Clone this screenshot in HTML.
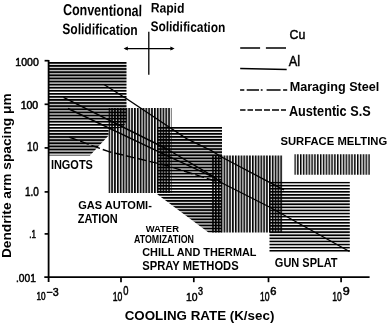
<!DOCTYPE html><html><head><meta charset="utf-8"><style>html,body{margin:0;padding:0;background:#fff;}svg{display:block;}text{font-family:"Liberation Sans",Arial,sans-serif;fill:#000;}</style></head><body>
<svg width="387" height="324" viewBox="0 0 387 324">
<rect width="387" height="324" fill="#fff"/>
<defs>
<pattern id="hIng" patternUnits="userSpaceOnUse" x="0" y="62.0" width="10" height="3.09"><rect x="0" y="0" width="10" height="1.95" fill="#000"/></pattern>
<pattern id="vGas" patternUnits="userSpaceOnUse" x="108.4" y="0" width="2.85" height="10"><rect x="0" y="0" width="1.7" height="10" fill="#000"/></pattern>
<pattern id="hChill" patternUnits="userSpaceOnUse" x="0" y="126.9" width="10" height="3.05"><rect x="0" y="0" width="10" height="1.9" fill="#000"/></pattern>
<pattern id="vF" patternUnits="userSpaceOnUse" x="212.2" y="0" width="2.84" height="10"><rect x="0" y="0" width="1.65" height="10" fill="#000"/></pattern>
<pattern id="hGun" patternUnits="userSpaceOnUse" x="0" y="181.7" width="10" height="3.1"><rect x="0" y="0" width="10" height="1.7" fill="#000"/></pattern>
<pattern id="vSurf" patternUnits="userSpaceOnUse" x="294.3" y="0" width="2.85" height="10"><rect x="0" y="0" width="1.5" height="10" fill="#000"/></pattern>
</defs>
<polygon points="49,62 126.5,62 126.5,122 122.5,127.5 108.6,129.5 108.6,135.5 90,155.5 49,155.5" fill="url(#hIng)"/>
<polygon points="108.5,108 171.5,108 171.5,193 108.5,193" fill="url(#vGas)"/>
<polygon points="157.5,126.9 222,126.9 222,232.4 208.5,232.4 157.5,194.5" fill="url(#hChill)"/>
<polygon points="212,155.6 282.5,155.6 282.5,232.4 212,232.4" fill="url(#vF)"/>
<polygon points="269.5,181.7 349.8,181.7 349.8,252.5 269.5,252.5" fill="url(#hGun)"/>
<polygon points="294.3,154.2 370,154.2 370,174.8 294.3,174.8" fill="url(#vSurf)"/>
<g stroke="#000" stroke-width="1.8" fill="none">
<line x1="48.6" y1="60.0" x2="48.6" y2="282.0"/>
<line x1="44.3" y1="277.1" x2="369.6" y2="277.1"/>
</g>
<g stroke="#000" stroke-width="1.7" fill="none">
<line x1="44.6" y1="60.7" x2="48.6" y2="60.7"/>
<line x1="44.6" y1="104.3" x2="48.6" y2="104.3"/>
<line x1="44.6" y1="147.9" x2="48.6" y2="147.9"/>
<line x1="44.6" y1="191.9" x2="48.6" y2="191.9"/>
<line x1="44.6" y1="233.9" x2="48.6" y2="233.9"/>
<line x1="121.0" y1="277.1" x2="121.0" y2="282.2"/>
<line x1="193.8" y1="277.1" x2="193.8" y2="282.2"/>
<line x1="268.5" y1="277.1" x2="268.5" y2="282.2"/>
<line x1="341.1" y1="277.1" x2="341.1" y2="282.2"/>
</g>
<g stroke="#000" stroke-width="1.3" fill="none">
<line x1="148.8" y1="31.7" x2="148.8" y2="74.7"/>
<line x1="125" y1="48.6" x2="173" y2="48.6"/>
</g>
<polygon points="123.6,48.6 127.8,46.6 127.8,50.6" fill="#000"/><polygon points="174.6,48.6 170.4,46.6 170.4,50.6" fill="#000"/>
<g stroke="#000" stroke-width="1.5" fill="none">
<line x1="240.2" y1="47.9" x2="286" y2="47.9" stroke-dasharray="19.9,5.8,21"/>
<line x1="240.2" y1="68.6" x2="286.7" y2="69.6"/>
<line x1="240.1" y1="90" x2="287.2" y2="90" stroke-dasharray="4.2,2.4,12.3,1.8,1.8,4,14,2.5,4.1"/>
<line x1="240.1" y1="109.9" x2="286" y2="109.9" stroke-dasharray="5.4,2,5.5,2,7,2,6,2,7,2,5"/>
</g>
<g stroke="#000" stroke-width="1.4" fill="none" stroke-linejoin="round">
<polyline points="104,84.5 127,99 139,107 166,125 187,138.9 210.9,150.4 221.6,157 271,183.2 284,190"/>
<polyline points="63.5,97.3 166.8,149 212.4,175.9 222,183 269.4,207 349.5,251.5"/>
<polyline points="68,108.5 166.8,155.7 212.4,176.7 222,183"/>
<polyline points="69,137 92.8,145.9 109,151.7 166.8,165.5 212,180 222,183" stroke-dasharray="9,3"/>
</g>
<text transform="rotate(0.95 63.4 14.9)" x="62.91" y="14.90" font-size="15.78" font-weight="bold" textLength="79.02" lengthAdjust="spacingAndGlyphs">Conventional</text>
<text transform="rotate(0.95 63.0 34.0)" x="62.34" y="34.00" font-size="15.11" font-weight="bold" textLength="75.36" lengthAdjust="spacingAndGlyphs">Solidification</text>
<text transform="rotate(0.95 151.4 12.3)" x="150.66" y="12.30" font-size="13.54" font-weight="bold" textLength="33.70" lengthAdjust="spacingAndGlyphs">Rapid</text>
<text transform="rotate(0.95 151.1 31.0)" x="150.48" y="31.00" font-size="13.90" font-weight="bold" textLength="74.76" lengthAdjust="spacingAndGlyphs">Solidification</text>
<text stroke="#000" stroke-width="0.45" x="289.47" y="39.40" font-size="13.18" font-weight="normal" textLength="15.83" lengthAdjust="spacingAndGlyphs">Cu</text>
<text stroke="#000" stroke-width="0.45" x="288.67" y="65.70" font-size="15.01" font-weight="normal" textLength="11.39" lengthAdjust="spacingAndGlyphs">Al</text>
<text x="289.65" y="91.10" font-size="12.49" font-weight="bold" textLength="89.73" lengthAdjust="spacingAndGlyphs">Maraging Steel</text>
<text x="288.93" y="115.90" font-size="14.04" font-weight="bold" textLength="81.70" lengthAdjust="spacingAndGlyphs">Austentic S.S</text>
<text x="280.49" y="145.20" font-size="11.55" font-weight="bold" textLength="106.69" lengthAdjust="spacingAndGlyphs">SURFACE MELTING</text>
<text x="50.90" y="169.00" font-size="12.60" font-weight="bold" textLength="42.01" lengthAdjust="spacingAndGlyphs">INGOTS</text>
<text x="78.15" y="208.80" font-size="10.25" font-weight="bold" textLength="73.71" lengthAdjust="spacingAndGlyphs">GAS AUTOMI-</text>
<text x="77.68" y="222.50" font-size="12.51" font-weight="bold" textLength="40.08" lengthAdjust="spacingAndGlyphs">ZATION</text>
<text x="145.63" y="231.80" font-size="9.81" font-weight="bold" textLength="33.31" lengthAdjust="spacingAndGlyphs">WATER</text>
<text x="134.00" y="242.60" font-size="11.33" font-weight="bold" textLength="59.92" lengthAdjust="spacingAndGlyphs">ATOMIZATION</text>
<text x="142.25" y="256.00" font-size="11.10" font-weight="bold" textLength="114.25" lengthAdjust="spacingAndGlyphs">CHILL AND THERMAL</text>
<text x="142.32" y="269.70" font-size="11.97" font-weight="bold" textLength="96.29" lengthAdjust="spacingAndGlyphs">SPRAY METHODS</text>
<text x="274.85" y="266.90" font-size="12.25" font-weight="bold" textLength="62.73" lengthAdjust="spacingAndGlyphs">GUN SPLAT</text>
<text x="124.64" y="320.10" font-size="13.64" font-weight="bold" textLength="149.71" lengthAdjust="spacingAndGlyphs">COOLING RATE (K/sec)</text>
<text stroke="#000" stroke-width="0.5" x="15.33" y="65.60" font-size="11.51" font-weight="normal" textLength="23.45" lengthAdjust="spacingAndGlyphs">1000</text>
<text stroke="#000" stroke-width="0.5" x="20.65" y="109.20" font-size="10.00" font-weight="normal" textLength="17.59" lengthAdjust="spacingAndGlyphs">100</text>
<text stroke="#000" stroke-width="0.5" x="27.12" y="151.20" font-size="12.01" font-weight="normal" textLength="11.13" lengthAdjust="spacingAndGlyphs">10</text>
<text stroke="#000" stroke-width="0.5" x="24.92" y="196.40" font-size="11.90" font-weight="normal" textLength="13.83" lengthAdjust="spacingAndGlyphs">1.0</text>
<text stroke="#000" stroke-width="0.5" x="29.21" y="238.10" font-size="10.34" font-weight="normal" textLength="6.70" lengthAdjust="spacingAndGlyphs">.1</text>
<text stroke="#000" stroke-width="0.5" x="15.96" y="282.10" font-size="11.29" font-weight="normal" textLength="19.93" lengthAdjust="spacingAndGlyphs">.001</text>
<text stroke="#000" stroke-width="0.5" x="36.43" y="300.20" font-size="10.30" font-weight="normal" textLength="9.11" lengthAdjust="spacingAndGlyphs">10</text>
<text stroke="#000" stroke-width="0.5" x="46.57" y="295.50" font-size="11.09" font-weight="normal" textLength="12.17" lengthAdjust="spacingAndGlyphs">−3</text>
<text stroke="#000" stroke-width="0.5" x="112.76" y="300.80" font-size="12.10" font-weight="normal" textLength="9.64" lengthAdjust="spacingAndGlyphs">10</text>
<text stroke="#000" stroke-width="0.5" x="123.28" y="294.90" font-size="12.53" font-weight="normal" textLength="5.21" lengthAdjust="spacingAndGlyphs">0</text>
<text stroke="#000" stroke-width="0.5" x="186.05" y="300.60" font-size="11.79" font-weight="normal" textLength="11.60" lengthAdjust="spacingAndGlyphs">10</text>
<text stroke="#000" stroke-width="0.5" x="198.10" y="295.10" font-size="10.38" font-weight="normal" textLength="4.99" lengthAdjust="spacingAndGlyphs">3</text>
<text stroke="#000" stroke-width="0.5" x="260.09" y="300.80" font-size="12.08" font-weight="normal" textLength="9.57" lengthAdjust="spacingAndGlyphs">10</text>
<text stroke="#000" stroke-width="0.5" x="270.19" y="295.40" font-size="10.29" font-weight="normal" textLength="6.14" lengthAdjust="spacingAndGlyphs">6</text>
<text stroke="#000" stroke-width="0.5" x="332.31" y="300.50" font-size="13.51" font-weight="normal" textLength="9.61" lengthAdjust="spacingAndGlyphs">10</text>
<text stroke="#000" stroke-width="0.5" x="342.81" y="295.40" font-size="10.47" font-weight="normal" textLength="6.97" lengthAdjust="spacingAndGlyphs">9</text>
<text transform="translate(10.80,258.10) rotate(-90)" x="0" y="0" font-size="13.40" font-weight="bold" textLength="164.70" lengthAdjust="spacingAndGlyphs">Dendrite arm spacing μm</text>
</svg></body></html>
